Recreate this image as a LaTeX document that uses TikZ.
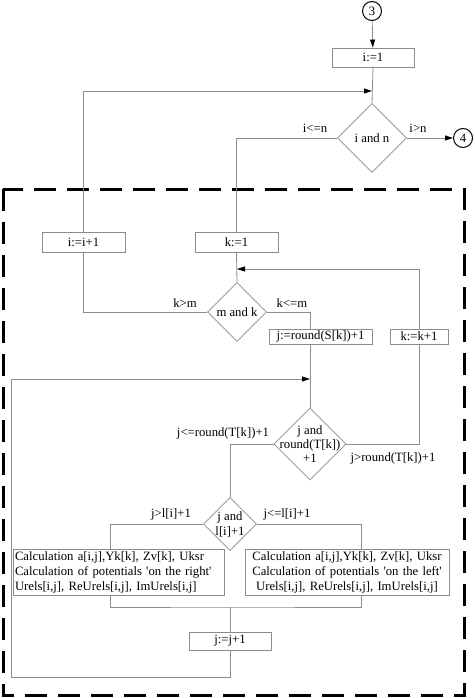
\documentclass[tikz,border=0pt]{standalone}
\usepackage{fontspec}
\setmainfont{Liberation Serif}[Ligatures=TeXOff]
\usetikzlibrary{arrows.meta,shapes.geometric,calc}
\definecolor{lc}{RGB}{140,140,140}
\tikzset{
  box/.style={draw=lc, line width=0.8pt, rectangle, inner sep=1pt, align=center},
  dia/.style={draw=lc, line width=0.8pt, diamond, inner sep=0pt, minimum width=#1, minimum height=#1},
  conn/.style={draw=lc, line width=0.8pt, circle, inner sep=0pt, minimum size=19pt},
  ln/.style={draw=lc, line width=0.8pt},
  arr/.style={draw=lc, line width=0.8pt, -{Triangle[length=8pt,width=5pt,color=black]}},
  lab/.style={inner sep=0pt},
}
\begin{document}
\begin{tikzpicture}[x=1pt,y=-1pt,font=\fontsize{12.7}{15}\selectfont]
\useasboundingbox (0,0) rectangle (474,698);
% dashed frame
\draw[line width=3pt, dash pattern=on 22pt off 11pt] (3,189) rectangle (464,695);
% connectors (circles)
\node[conn, draw=black, line width=1pt] (c3) at (372,11) {3};
\node[conn, draw=black, line width=1pt] (c4) at (463,138) {4};
% boxes
\node[box, minimum width=82pt, minimum height=19pt] (b1) at (373,57.5) {i:=1};
\node[box, minimum width=83pt, minimum height=20pt] (iinc) at (83.5,242) {i:=i+1};
\node[box, minimum width=83pt, minimum height=20pt] (kone) at (236.5,242) {k:=1};
\node[box, minimum width=103pt, minimum height=15pt] (jround) at (320.5,336.5) {j:=round(S[k])+1};
\node[box, minimum width=58pt, minimum height=15pt] (kinc) at (419,336.5) {k:=k+1};
\node[box, minimum width=211pt, minimum height=46pt, text width=207pt, align=left, inner sep=2pt] (lb) at (118.5,572)
  {Calculation a[i,j],Yk[k], Zv[k], Uksr\\Calculation of potentials 'on the right'\\Urels[i,j], ReUrels[i,j], ImUrels[i,j]};
\node[box, minimum width=204pt, minimum height=46pt, text width=200pt, align=center, inner sep=2pt] (rb) at (347,572)
  {Calculation a[i,j],Yk[k], Zv[k], Uksr\\Calculation of potentials 'on the left'\\Urels[i,j], ReUrels[i,j], ImUrels[i,j]};
\node[box, minimum width=82pt, minimum height=18pt] (jinc) at (230,641) {j:=j+1};
% diamonds
\node[dia=69pt, label={[lab]center:i and n}] (d1) at (372,138) {};
\node[dia=59pt, label={[lab]center:m and k}] (d2) at (237,312) {};
\node[dia=72pt, label={[lab, align=center, font=\fontsize{12.7}{14}\selectfont]center:j and\\round(T[k])\\+1}] (d3) at (310,444) {};
\node[dia=53pt, label={[lab, align=center, font=\fontsize{12.7}{15}\selectfont]center:j and\\l[i]+1}] (d4) at (230,524) {};
% junction coordinates
\coordinate (j1) at (372,91);
\coordinate (j2) at (237,269);
\coordinate (j3) at (310,379);
\coordinate (m1) at (230,607);
\coordinate (lp) at (11,677);
% connectors
\draw[arr] (c3) -- (b1);
\draw[ln] (b1.south) -- (d1.north);
\draw[arr] (iinc.north) |- (j1);
\draw[ln] (d1.west) -| (kone.north);
\draw[arr] (d1.east) -- (c4);
\draw[ln] (kone.south) -- (d2.north);
\draw[ln] (d2.west) -| (iinc.south);
\draw[ln] (d2.east) -| ([xshift=-10.5pt]jround.north);
\draw[arr] (kinc.north) |- (j2);
\draw[ln] ([xshift=-10.5pt]jround.south) -- (d3.north);
\draw[ln] (d3.east) -| (kinc.south);
\draw[ln] (d3.west) -| (d4.north);
\draw[ln] (d4.west) -| ([xshift=-8.5pt]lb.north);
\draw[ln] (d4.east) -| ([xshift=14pt]rb.north);
\draw[ln] ([xshift=-8.5pt]lb.south) |- (m1) -| ([xshift=14pt]rb.south);
\draw[ln] (m1) -- (jinc.north);
\draw[ln] (jinc.south) |- (lp);
\draw[arr] (lp) |- (j3);
% labels
\node[lab] (l1) at (315,128) {i<=n};
\node[lab] (l2) at (418,128) {i>n};
\node[lab] (l3) at (185,303) {k>m};
\node[lab] (l4) at (292,303) {k<=m};
\node[lab] (l5) at (223,433) {j<=round(T[k])+1};
\node[lab] (l6) at (393,458) {j>round(T[k])+1};
\node[lab] (l7) at (171,514) {j>l[i]+1};
\node[lab] (l8) at (287,514) {j<=l[i]+1};
\end{tikzpicture}
\end{document}
